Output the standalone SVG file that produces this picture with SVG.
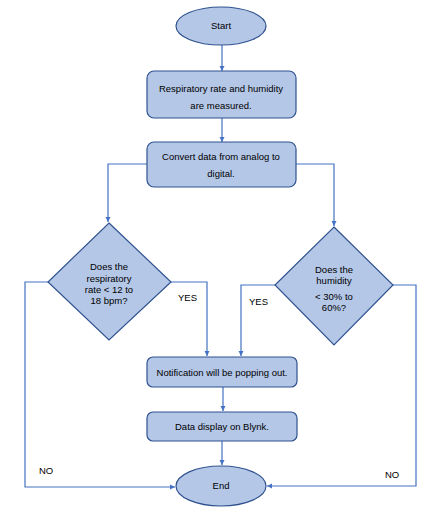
<svg xmlns="http://www.w3.org/2000/svg" width="437" height="516" viewBox="0 0 437 516">
<defs>
<marker id="arr" markerWidth="6" markerHeight="6" refX="5" refY="3" orient="auto" markerUnits="userSpaceOnUse">
<path d="M0,0.5 L5,3 L0,5.5 Z" fill="#4472c4"/>
</marker>
</defs>
<style>
.shape{fill:#b4c7e7;stroke:#2f528f;stroke-width:1.2}
.t{font-family:"Liberation Sans",Arial,sans-serif;font-size:9.5px;fill:#000;text-anchor:middle}
.lbl{font-family:"Liberation Sans",Arial,sans-serif;font-size:9.5px;fill:#000}
.c{fill:none;stroke:#4472c4;stroke-width:1.2;marker-end:url(#arr)}
</style>
<rect width="437" height="516" fill="#fff"/>
<g id="connectors">
<path class="c" d="M222,45 V71"/>
<path class="c" d="M222,118 V142"/>
<path class="c" d="M147,164 H108 V222"/>
<path class="c" d="M296,164 H334 V226"/>
<path class="c" d="M171,282 H207 V356"/>
<path class="c" d="M275,285 H241 V356"/>
<path class="c" d="M48,282 H25 V487 H175"/>
<path class="c" d="M393,285 H416 V486 H267"/>
<path class="c" d="M223,387 V411"/>
<path class="c" d="M222,441 V465"/>
</g>
<g id="start">
<ellipse class="shape" cx="221" cy="26" rx="45" ry="19"/>
<text class="t" x="221" y="29">Start</text>
</g>
<g id="measure">
<rect class="shape" x="147" y="71" width="149" height="47" rx="7"/>
<text class="t" x="221" y="92">Respiratory rate and humidity</text>
<text class="t" x="221" y="109">are measured.</text>
</g>
<g id="convert">
<rect class="shape" x="147" y="142" width="149" height="45" rx="7"/>
<text class="t" x="221" y="160">Convert data from analog to</text>
<text class="t" x="221" y="177">digital.</text>
</g>
<g id="resp">
<polygon class="shape" points="109,223 171,282 109,340 48,282"/>
<text class="t" x="109" y="270">Does the</text>
<text class="t" x="109" y="282">respiratory</text>
<text class="t" x="109" y="293">rate &lt; 12 to</text>
<text class="t" x="109" y="304">18 bpm?</text>
</g>
<g id="humid">
<polygon class="shape" points="334,227 393,285 334,345 275,285"/>
<text class="t" x="334" y="273">Does the</text>
<text class="t" x="334" y="284">humidity</text>
<text class="t" x="334" y="300">&lt; 30% to</text>
<text class="t" x="334" y="311">60%?</text>
</g>
<g id="notify">
<rect class="shape" x="147" y="357" width="150" height="30" rx="6"/>
<text class="t" x="222" y="376">Notification will be popping out.</text>
</g>
<g id="display">
<rect class="shape" x="147" y="412" width="150" height="29" rx="6"/>
<text class="t" x="222" y="430">Data display on Blynk.</text>
</g>
<g id="end">
<ellipse class="shape" cx="221" cy="486" rx="45" ry="20"/>
<text class="t" x="221" y="489">End</text>
</g>
<g id="labels">
<text class="lbl" x="178" y="301">YES</text>
<text class="lbl" x="249" y="305">YES</text>
<text class="lbl" x="39" y="474">NO</text>
<text class="lbl" x="385" y="478">NO</text>
</g>
</svg>
